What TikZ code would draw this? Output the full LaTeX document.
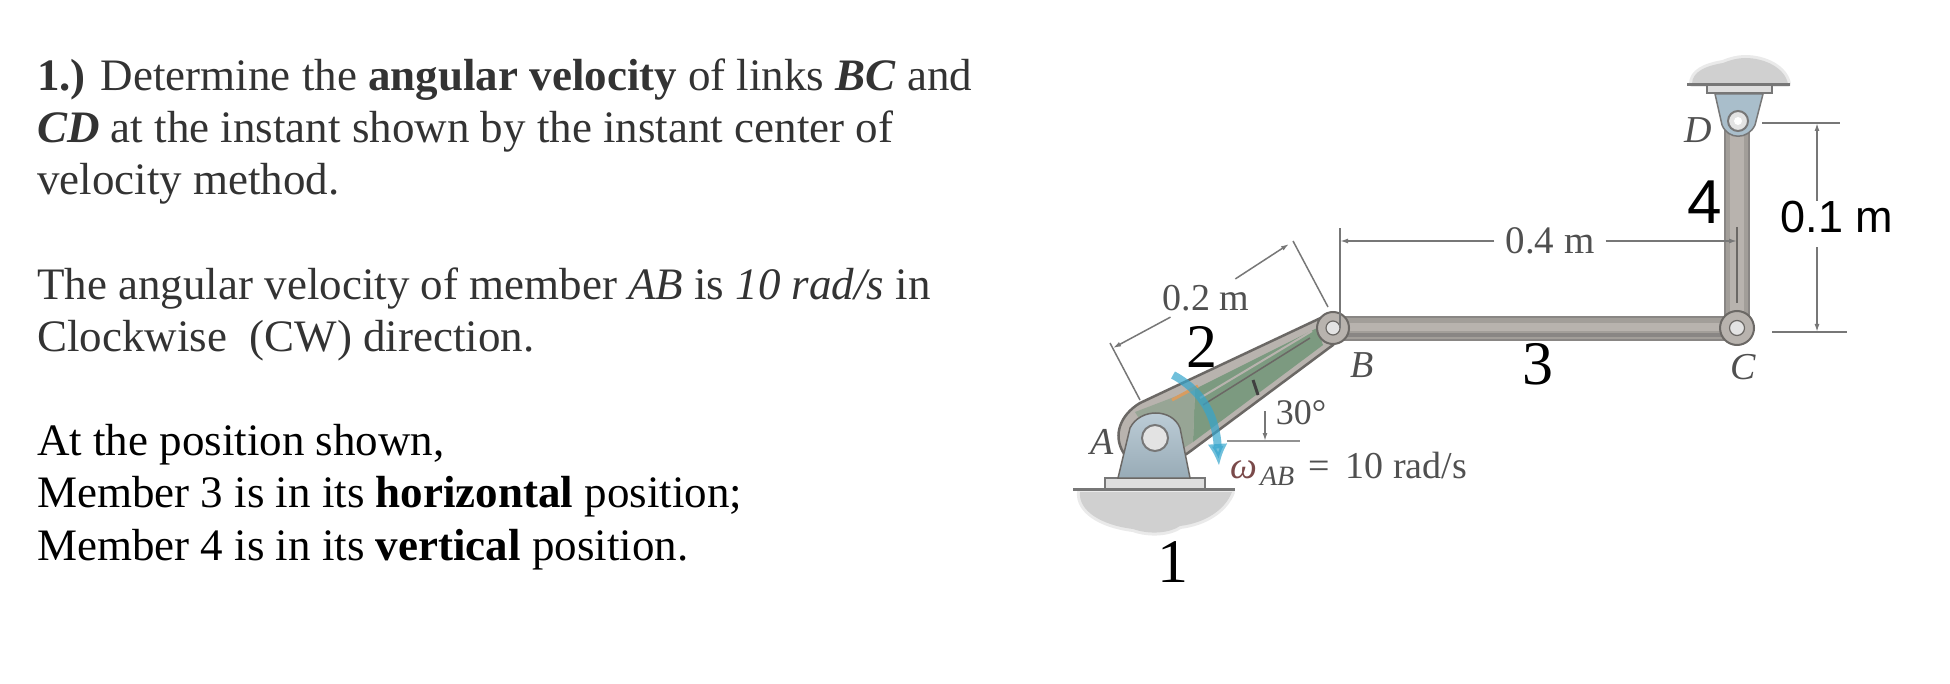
\documentclass[tikz,border=0pt]{standalone}
\usepackage{fontspec}
\setmainfont{Liberation Serif}
\newfontfamily\dimsans{Liberation Sans}
\usetikzlibrary{arrows.meta}
\definecolor{inkgray}{HTML}{333333}
\definecolor{dimgray}{HTML}{777777}
\definecolor{labelgray}{HTML}{505050}
\definecolor{groundgray}{HTML}{D0D0D0}
\definecolor{linkgray}{HTML}{B8B3AE}
\definecolor{linkmid}{HTML}{A29E99}
\definecolor{linkdark}{HTML}{6B6865}
\definecolor{linkgreen}{HTML}{7C9A80}
\definecolor{bracketblue}{HTML}{A9BECB}
\definecolor{spinblue}{HTML}{35A5CC}
\definecolor{omegared}{HTML}{7A4A4A}
\tikzset{
  bodytext/.style={anchor=base west,inner sep=0pt,font=\fontsize{45}{52}\selectfont},
  dimtext/.style={inner sep=6pt,text=labelgray,font=\fontsize{38}{38}\selectfont},
  pointtext/.style={inner sep=0pt,text=labelgray,font=\fontsize{38}{38}\selectfont\itshape},
  numtext/.style={inner sep=0pt,text=black,font=\fontsize{62}{62}\selectfont},
  dimline/.style={draw=dimgray,line width=1.5pt},
  dimtip/.style={dimline,-{Latex[length=8pt,width=5pt]}},
  rodlink/.style={draw=linkdark!80,line width=1.5pt,fill=linkmid},
  joint/.style={circle,draw=linkdark,line width=2pt,fill=linkgray,inner sep=0pt,minimum size=#1},
  plate/.style={draw=dimgray,line width=1.5pt,fill=groundgray!70},
  groundblob/.style={fill=groundgray,draw=groundgray,draw opacity=0.45,line width=6pt,line join=round},
}
\begin{document}
\begin{tikzpicture}[x=1pt,y=-1pt]
  \useasboundingbox (0,0) rectangle (1950,684);

  % Problem statement
  \node[bodytext,text=inkgray] (line1) at (37,91) {\textbf{1.)} Determine the \textbf{angular velocity} of links \textbf{\textit{BC}} and};
  \node[bodytext,text=inkgray] (line2) at (37,143) {\textbf{\textit{CD}} at the instant shown by the instant center of};
  \node[bodytext,text=inkgray] (line3) at (37,195) {velocity method.};
  \node[bodytext,text=inkgray] (line4) at (37,300) {The angular velocity of member \textit{AB} is \textit{10 rad/s} in};
  \node[bodytext,text=inkgray] (line5) at (37,351) {Clockwise\ \ (CW) direction.};
  \node[bodytext] (line6) at (37,455) {At the position shown,};
  \node[bodytext] (line7) at (37,507) {Member 3 is in its \textbf{horizontal} position;};
  \node[bodytext] (line8) at (37,560) {Member 4 is in its \textbf{vertical} position.};

  % Ground blobs
  \path[groundblob] (1080,492) .. controls (1078,510) and (1100,525) .. (1133,529)
    .. controls (1150,535) and (1170,533) .. (1180,526)
    .. controls (1205,523) and (1225,510) .. (1232,492) -- cycle;
  \path[groundblob] (1692,84) .. controls (1692,72) and (1705,66) .. (1723,63)
    .. controls (1730,60) and (1738,58) .. (1745,58)
    .. controls (1765,58) and (1785,68) .. (1788,84) -- cycle;

  % Pin positions
  \coordinate (pinA) at (1155,438);
  \coordinate (pinB) at (1333,328);
  \coordinate (pinC) at (1737,328);
  \coordinate (pinD) at (1738,121);

  % Member 4 and member 3
  \draw[rodlink] (1725,121) rectangle (1749,328);
  \fill[linkgray] (1730,135) rectangle (1744,312);
  \draw[rodlink] (1340,317) rectangle (1737,340);
  \fill[linkgray] (1342,323) rectangle (1722,331);
  \fill[linkdark!80] (1342,333) rectangle (1722,337);

  % Member 2
  \draw[draw=linkdark,line width=2.5pt,fill=linkgray] (1140,403) -- (1327,315) -- (1333,345) -- (1192,450)
    .. controls (1170,468) and (1130,470) .. (1123,452)
    .. controls (1113,435) and (1120,415) .. (1140,403) -- cycle;
  \fill[linkgreen] (1195,389) -- (1317,328) -- (1323,345) -- (1193,442) -- cycle;
  \fill[linkgreen!55!linkgray] (1135,412) -- (1195,389) -- (1193,442) -- (1165,460) -- cycle;
  \draw[linkdark,line width=1.5pt] (1203,405) -- (1310,338);
  \draw[linkgray,line width=2pt] (1200,398) -- (1312,331);
  \draw[black!75,line width=3pt] (1253,380) -- (1258,395);
  \draw[orange!45!linkgray,line width=3pt] (1172,400) -- (1198,386);

  % Supports
  \draw[plate] (1105,478) rectangle (1205,489);
  \draw[dimgray,line width=3pt] (1073,489) -- (1235,489);
  \draw[draw=linkdark,line width=1.5pt,top color=bracketblue!75,bottom color=bracketblue!90!black] (1118,478) -- (1130,428)
    .. controls (1140,408) and (1172,408) .. (1180,428) -- (1190,478) -- cycle;
  \node[joint=26pt,fill=groundgray!60,draw=dimgray] (jointA) at (pinA) {};

  \draw[dimgray,line width=3pt] (1687,85) -- (1790,85);
  \draw[plate] (1707,85) rectangle (1772,93);
  \draw[draw=dimgray,line width=1.5pt,fill=bracketblue] (1715,94) -- (1763,94) -- (1755,125)
    .. controls (1748,140) and (1728,140) .. (1722,125) -- cycle;
  \node[joint=20pt,fill=groundgray!60,draw=dimgray] (jointD) at (pinD) {};
  \fill[white] (pinD) circle (4);

  % Joints B and C
  \node[joint=32pt] (jointB) at (pinB) {};
  \node[joint=14pt,fill=groundgray!60,line width=1.2pt] (hubB) at (pinB) {};
  \node[joint=34pt] (jointC) at (pinC) {};
  \node[joint=15pt,fill=groundgray!60,line width=1.2pt] (hubC) at (pinC) {};

  % Angular velocity arrow
  \coordinate (spinS) at (1173,375);
  \coordinate (spinE) at (1219,466);
  \draw[spinblue,line width=8pt,-{Latex[length=22pt,width=20pt]},opacity=0.7] (spinS)
    .. controls (1205,392) and (1216,420) .. (spinE);

  % Dimension 0.2 m
  \coordinate (extA1) at (1140,400);
  \coordinate (extA2) at (1110,343);
  \coordinate (extB1) at (1328,307);
  \coordinate (extB2) at (1293,241);
  \coordinate (tipA) at (1113,348);
  \coordinate (tipB) at (1289,244);
  \node[dimtext] (label02) at (1206,298) {0.2 m};
  \draw[dimline] (extA1) -- (extA2);
  \draw[dimline] (extB1) -- (extB2);
  \draw[dimtip] (label02) -- (tipA);
  \draw[dimtip] (label02) -- (tipB);

  % Dimension 0.4 m
  \coordinate (extH1) at (1340,328);
  \coordinate (extH2) at (1340,228);
  \coordinate (tipH1) at (1340,241);
  \coordinate (tipH2) at (1737,241);
  \coordinate (extV1) at (1737,227);
  \coordinate (extV2) at (1737,303);
  \node[dimtext,inner xsep=11pt,font=\fontsize{39}{39}\selectfont] (label04) at (1550,241) {0.4 m};
  \draw[dimline] (extH1) -- (extH2);
  \draw[linkdark,line width=1.6pt] (extV1) -- (extV2);
  \draw[dimtip] (label04) -- (tipH1);
  \draw[dimtip] (label04) -- (tipH2);

  % Dimension 0.1 m
  \coordinate (extT1) at (1762,123);
  \coordinate (extT2) at (1840,123);
  \coordinate (extL1) at (1772,332);
  \coordinate (extL2) at (1847,332);
  \coordinate (tipT) at (1817,123);
  \coordinate (tipL) at (1817,332);
  \node[inner sep=0pt,text height=32pt,text depth=2pt,text=black,font=\fontsize{45}{45}\dimsans] (label01) at (1837,218) {0.1 m};
  \draw[dimline] (extT1) -- (extT2);
  \draw[dimline] (extL1) -- (extL2);
  \draw[dimtip] (label01.north -| tipT) -- (tipT);
  \draw[dimtip] (label01.south -| tipL) ++(0,12) -- (tipL);

  % Angle 30 degrees
  \coordinate (horzS) at (1227,441);
  \coordinate (horzE) at (1300,441);
  \coordinate (arcS) at (1265,411);
  \coordinate (arcE) at (1265,441);
  \draw[dimline,line width=2.5pt,dimgray!80] (horzS) -- (horzE);
  \draw[dimtip] (arcS) -- (arcE);
  \node[pointtext,font=\fontsize{36}{36}\selectfont] (label30) at (1301,413) {30°};

  % Point and member labels
  \node[pointtext] (labelA) at (1102,442) {A};
  \node[pointtext] (labelB) at (1362,365) {B};
  \node[pointtext] (labelC) at (1743,367) {C};
  \node[pointtext] (labelD) at (1698,130) {D};
  \node[numtext] (num1) at (1173,562) {1};
  \node[numtext] (num2) at (1202,347) {2};
  \node[numtext] (num3) at (1538,364) {3};
  \node[numtext,font=\fontsize{62}{62}\dimsans] (num4) at (1705,202) {4};

  % Angular velocity value
  \node[inner sep=0pt,anchor=base west,text=labelgray,font=\fontsize{38}{38}\selectfont] (labelw) at (1230,478)
    {{\color{omegared}\itshape ω}\hspace*{3pt}\raisebox{-7pt}{\fontsize{28}{28}\selectfont\itshape AB}\hspace*{14pt}=\hspace*{16pt}10 rad/s};
\end{tikzpicture}
\end{document}
